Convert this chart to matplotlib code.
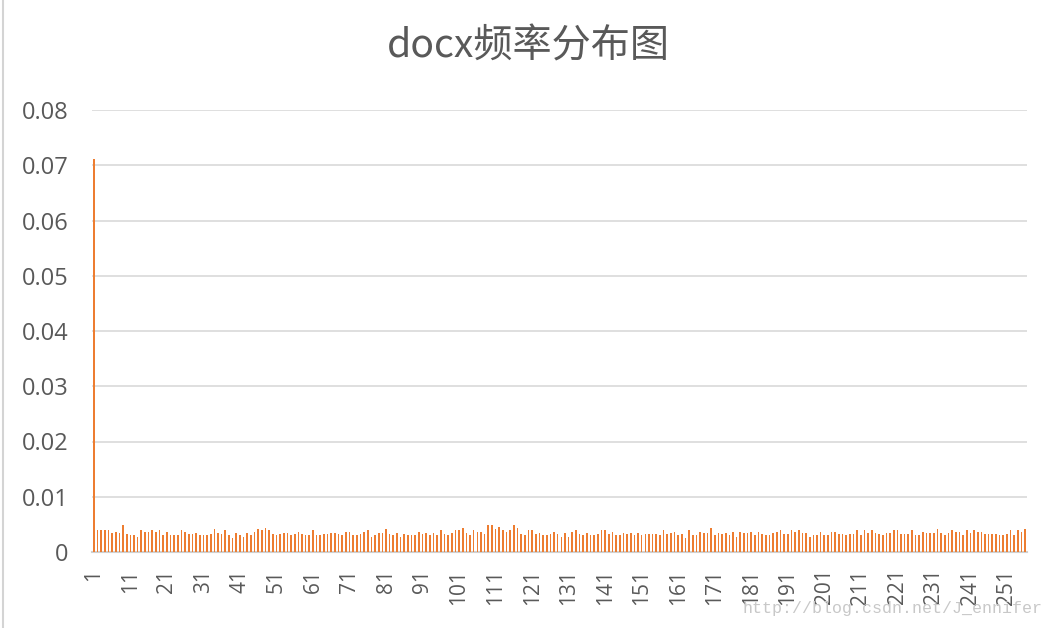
import matplotlib
matplotlib.use("Agg")
from matplotlib import pyplot as plt
from matplotlib.lines import Line2D

# byte value 1..256 and its frequency in the docx file
byte_index = list(range(1, 257))
freq = [
    0.0711, 0.0039, 0.0040, 0.0040, 0.0039, 0.0034, 0.0037, 0.0034, 0.0048, 0.0033,
    0.0030, 0.0031, 0.0028, 0.0039, 0.0037, 0.0036, 0.0039, 0.0036, 0.0039, 0.0031,
    0.0037, 0.0030, 0.0030, 0.0031, 0.0040, 0.0036, 0.0033, 0.0033, 0.0035, 0.0031,
    0.0031, 0.0030, 0.0033, 0.0042, 0.0035, 0.0033, 0.0039, 0.0031, 0.0026, 0.0035,
    0.0031, 0.0028, 0.0035, 0.0031, 0.0037, 0.0042, 0.0040, 0.0044, 0.0039, 0.0033,
    0.0031, 0.0033, 0.0035, 0.0034, 0.0031, 0.0033, 0.0037, 0.0033, 0.0031, 0.0031,
    0.0040, 0.0031, 0.0031, 0.0033, 0.0033, 0.0035, 0.0035, 0.0033, 0.0031, 0.0037,
    0.0037, 0.0030, 0.0031, 0.0033, 0.0037, 0.0039, 0.0028, 0.0031, 0.0035, 0.0035,
    0.0042, 0.0033, 0.0031, 0.0035, 0.0028, 0.0033, 0.0030, 0.0030, 0.0031, 0.0037,
    0.0033, 0.0035, 0.0031, 0.0035, 0.0031, 0.0039, 0.0033, 0.0030, 0.0035, 0.0040,
    0.0039, 0.0044, 0.0035, 0.0031, 0.0040, 0.0037, 0.0037, 0.0033, 0.0049, 0.0049,
    0.0042, 0.0046, 0.0039, 0.0037, 0.0040, 0.0048, 0.0044, 0.0033, 0.0031, 0.0039,
    0.0039, 0.0033, 0.0035, 0.0030, 0.0030, 0.0033, 0.0037, 0.0033, 0.0028, 0.0035,
    0.0028, 0.0037, 0.0040, 0.0033, 0.0030, 0.0035, 0.0031, 0.0031, 0.0033, 0.0039,
    0.0039, 0.0033, 0.0037, 0.0031, 0.0030, 0.0035, 0.0033, 0.0035, 0.0031, 0.0035,
    0.0031, 0.0033, 0.0033, 0.0033, 0.0033, 0.0031, 0.0039, 0.0033, 0.0035, 0.0037,
    0.0031, 0.0033, 0.0026, 0.0040, 0.0031, 0.0031, 0.0037, 0.0035, 0.0035, 0.0044,
    0.0031, 0.0035, 0.0033, 0.0035, 0.0031, 0.0037, 0.0028, 0.0037, 0.0035, 0.0035,
    0.0037, 0.0031, 0.0037, 0.0033, 0.0031, 0.0030, 0.0035, 0.0037, 0.0039, 0.0033,
    0.0033, 0.0039, 0.0037, 0.0039, 0.0035, 0.0035, 0.0028, 0.0030, 0.0030, 0.0037,
    0.0031, 0.0031, 0.0037, 0.0037, 0.0033, 0.0033, 0.0031, 0.0033, 0.0033, 0.0039,
    0.0031, 0.0039, 0.0035, 0.0039, 0.0035, 0.0033, 0.0030, 0.0035, 0.0035, 0.0040,
    0.0039, 0.0033, 0.0033, 0.0033, 0.0039, 0.0030, 0.0030, 0.0037, 0.0035, 0.0035,
    0.0035, 0.0042, 0.0035, 0.0031, 0.0035, 0.0040, 0.0037, 0.0037, 0.0030, 0.0039,
    0.0035, 0.0039, 0.0037, 0.0037, 0.0033, 0.0033, 0.0033, 0.0033, 0.0030, 0.0031,
    0.0033, 0.0039, 0.0030, 0.0039, 0.0037, 0.0042,
]
x_ticks = list(range(1, 257, 10))
y_ticks = [0, 0.01, 0.02, 0.03, 0.04, 0.05, 0.06, 0.07, 0.08]
y_labels = ["0", "0.01", "0.02", "0.03", "0.04", "0.05", "0.06", "0.07", "0.08"]

plt.rcParams["font.family"] = ["Open Sans", "Noto Sans CJK SC", "DejaVu Sans"]
text_color = "#595959"

fig = plt.figure(figsize=(10.56, 6.28), dpi=100)
ax = fig.add_axes([92 / 1056, 1 - 552 / 628, 935 / 1056, 442 / 628])

ax.bar(byte_index, freq, width=0.45, color="#ED7D31", antialiased=False, zorder=3)

ax.set_xlim(0.5, 256.5)
ax.set_ylim(0, 0.08)
ax.set_yticks(y_ticks)
ax.set_yticklabels(y_labels)
ax.set_xticks(x_ticks)
ax.set_xticklabels([str(v) for v in x_ticks], rotation=90)
ax.tick_params(axis="y", length=0, pad=17, labelsize=17, labelcolor=text_color)
ax.tick_params(axis="x", length=0, pad=12, labelsize=15, labelcolor=text_color)
ax.grid(axis="y", color="#D9D9D9", linewidth=1.2, zorder=0)

for side in ["top", "right", "left"]:
    ax.spines[side].set_visible(False)
ax.spines["bottom"].set_color("#D0D0D0")
ax.spines["bottom"].set_linewidth(1.5)

fig.text(0.5, 1 - 46 / 628, "docx频率分布图", ha="center", va="center",
         fontsize=28.2, color=text_color, family=["Noto Sans CJK SC", "DejaVu Sans"])

# left edge border of the sheet
fig.add_artist(Line2D([3 / 1056, 3 / 1056], [0, 1], color="#D4D4D4", linewidth=1.5))

# watermark, it sits over the last tick labels as in the screenshot
fig.text(1043 / 1056, 1 - 608 / 628, "http://blog.csdn.net/J_ennifer", ha="right",
         va="center", fontsize=12, color="#C8C8C8", family="Liberation Mono")

fig.savefig("out.png", dpi=100)
